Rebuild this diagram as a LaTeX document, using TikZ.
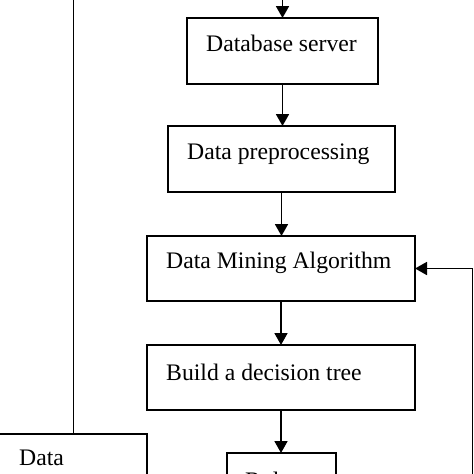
\documentclass[tikz,border=0pt]{standalone}
\usepackage{fontspec}
\setmainfont{Liberation Serif}
\usetikzlibrary{arrows.meta}
\begin{document}
\begin{tikzpicture}[x=1pt,y=-1pt,
  box/.style={draw=black,line width=1.8pt,inner sep=0pt,outer sep=0pt},
  lbl/.style={inner sep=0pt,anchor=base west,font=\fontsize{23.7}{28}\selectfont},
  conn/.style={line width=1.8pt},
  arr/.style={line width=1.8pt,-{Triangle[width=13pt,length=12pt]}}]
\useasboundingbox (0,0) rectangle (474,474);
\clip (0,0) rectangle (474,474);
\node[box,minimum width=191,minimum height=66] (db) at (282.5,51) {};
\node[box,minimum width=227,minimum height=66] (pre) at (281.5,159) {};
\node[box,minimum width=268,minimum height=65] (dma) at (281,268.5) {};
\node[box,minimum width=268,minimum height=65] (tree) at (281,377.5) {};
\node[box,minimum width=109,minimum height=65] (rules) at (281.5,485.5) {};
\node[box,minimum width=157,minimum height=65] (data) at (68.5,466.5) {};
\node[lbl] (tdb) at (206,51) {Database server};
\node[lbl] (tpre) at (187,159) {Data preprocessing};
\node[lbl] (tdma) at (166,268) {Data Mining Algorithm};
\node[lbl] (ttree) at (166,380) {Build a decision tree};
\node[lbl] (tdata) at (19,465) {Data};
\node[lbl] (trules) at (245,488) {Rules};
\coordinate (intop) at (282.5,-2);
\coordinate (ltop) at (73.5,-2);
\coordinate (rbot) at (472.5,480);
\draw[arr] (intop) -- (intop |- db.north);
\draw[arr] (db.south) -- (db.south |- pre.north);
\draw[arr] (pre.south) -- (pre.south |- dma.north);
\draw[arr] (dma.south) -- (dma.south |- tree.north);
\draw[arr] (tree.south) -- (tree.south |- rules.north);
\draw[conn] (ltop) -- (ltop |- data.north);
\draw[arr] (rbot) |- (dma.east);
\end{tikzpicture}
\end{document}
